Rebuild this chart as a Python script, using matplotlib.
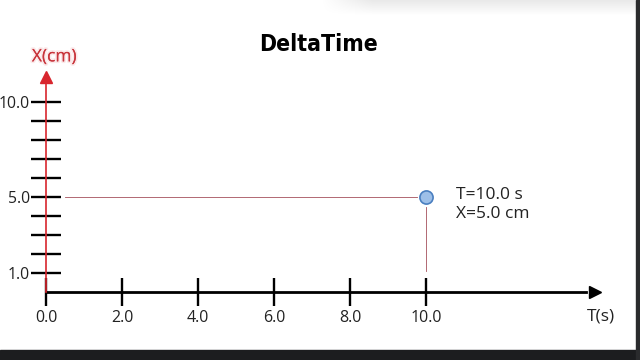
import matplotlib.pyplot as plt
import matplotlib.patheffects as pe
from matplotlib.patches import Rectangle
import numpy as np

# data
x_ticks = [0, 2, 4, 6, 8, 10]
x_labels = ['0.0', '2.0', '4.0', '6.0', '8.0', '10.0']
y_ticks = [1, 2, 3, 4, 5, 6, 7, 8, 9, 10]
y_labels = ['1.0', '', '', '', '5.0', '', '', '', '', '10.0']
point_t = 10.0
point_x = 5.0

font = 'Open Sans'

fig = plt.figure(figsize=(6.4, 3.6), dpi=100)
fig.patch.set_facecolor('white')
ax = fig.add_axes([0, 0, 1, 1])
ax.set_facecolor('none')

# pixel mapping: t -> 46 + 38 t ; x -> 68 + 19 x (from bottom)
ax.set_xlim(-46 / 38, (640 - 46) / 38)
ax.set_ylim(-68 / 19, (360 - 68) / 19)

for s in ['top', 'right']:
    ax.spines[s].set_visible(False)
ax.spines['left'].set_position(('data', 0))
ax.spines['bottom'].set_position(('data', 0))
ax.spines['left'].set_color('#d8262e')
ax.spines['left'].set_linewidth(1.2)
ax.spines['bottom'].set_color('black')
ax.spines['bottom'].set_linewidth(2)
ax.spines['left'].set_bounds(0, 11.0)
ax.spines['bottom'].set_bounds(0, 14.2)
ax.spines['left'].set_zorder(5)

# arrow heads
ax.plot([14.45], [0], marker='>', color='black', markersize=9, clip_on=False)
ax.plot([0], [11.3], marker='^', color='#d8262e', markersize=8, clip_on=False)

ax.set_xticks(x_ticks)
ax.set_xticklabels(x_labels, fontfamily=font, fontsize=11.5, color='#222222')
ax.set_yticks(y_ticks)
ax.set_yticklabels(y_labels, fontfamily=font, fontsize=11.3, color='#222222')
ax.tick_params(axis='x', direction='inout', length=20, width=1.7, pad=3, color='black')
ax.tick_params(axis='y', direction='inout', length=22, width=1.7, pad=0.5, color='black')

# guide lines
ax.plot([0.5, 9.75], [point_x, point_x], color='#a5505c', lw=0.6)
ax.plot([point_t, point_t], [point_x - 0.5, 1.1], color='#a5505c', lw=0.6)

# point
ax.scatter([point_t], [point_x], s=90, color='#9dbfe8', edgecolor='#4a7fc0', linewidth=1.2, zorder=6)
ax.text(point_t + 0.8, point_x + 0.55, 'T=10.0 s\nX=5.0 cm', fontfamily=font, fontsize=12.5,
        color='#222222', va='top', ha='left', linespacing=1.25)

# axis labels
ax.text(0.22, 12.35, 'X(cm)', fontfamily=font, fontsize=12.5, color='#c8353c',
        ha='center', va='center',
        path_effects=[pe.withStroke(linewidth=2.5, foreground='#fbe9ea'), pe.Normal()])
ax.text(14.6, -1.3, 'T(s)', fontfamily=font, fontsize=12.5, color='#222222', ha='center', va='center')

# title
fig.text(0.497, 0.877, 'DeltaTime', fontfamily='DejaVu Sans', fontweight='heavy',
         fontstretch='condensed', fontsize=16.5, ha='center', va='center')

# top shadow
h, w = 16, 316
vert = np.linspace(0.09, 0, h).reshape(-1, 1)
horiz = np.clip(np.linspace(0, 6, w), 0, 1).reshape(1, -1)
alpha = vert * horiz
rgba = np.zeros((h, w, 4))
rgba[..., 3] = alpha
sax = fig.add_axes([320 / 640, 1 - h / 360, w / 640, h / 360])
sax.imshow(rgba, aspect='auto')
sax.axis('off')

# dark frame bits
fig.patches.append(Rectangle((0, 0), 1, 10 / 360, transform=fig.transFigure,
                             color='#1c1d1f', zorder=10))
fig.patches.append(Rectangle((636 / 640, 0), 4 / 640, 1, transform=fig.transFigure,
                             color='#2a2b2d', zorder=10))

fig.savefig('out.png', dpi=100)
